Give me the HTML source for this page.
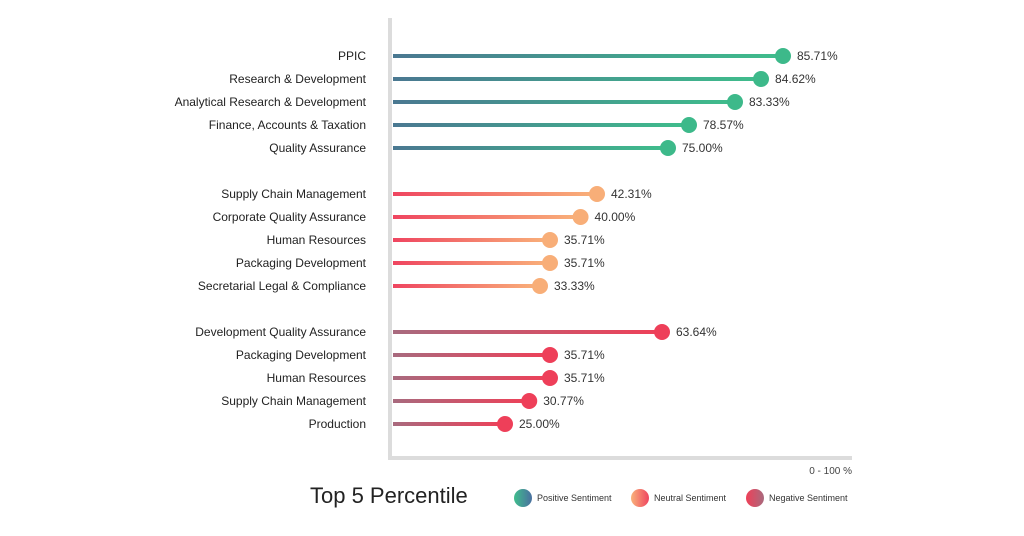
<!DOCTYPE html>
<html><head><meta charset="utf-8"><style>
body{margin:0;background:#fff;}
svg{display:block;font-family:"Liberation Sans",sans-serif;}
</style></head><body>
<svg id="chart" width="1024" height="536" viewBox="0 0 1024 536">
<defs>
<linearGradient id="gPos" x1="0" x2="1" y1="0" y2="0"><stop offset="0" stop-color="#4a7891"/><stop offset="1" stop-color="#3fbd8c"/></linearGradient>
<linearGradient id="gNeu" x1="0" x2="1" y1="0" y2="0"><stop offset="0" stop-color="#ef4560"/><stop offset="1" stop-color="#f9b27a"/></linearGradient>
<linearGradient id="gNeg" x1="0" x2="1" y1="0" y2="0"><stop offset="0" stop-color="#a86a7e"/><stop offset="1" stop-color="#ef4058"/></linearGradient>
<linearGradient id="lPos" x1="0" x2="1"><stop offset="0" stop-color="#3fbd8c"/><stop offset="1" stop-color="#4a6fa0"/></linearGradient>
<linearGradient id="lNeu" x1="0" x2="1"><stop offset="0" stop-color="#f9b27a"/><stop offset="1" stop-color="#ef4560"/></linearGradient>
<linearGradient id="lNeg" x1="0" x2="1"><stop offset="0" stop-color="#ef4058"/><stop offset="1" stop-color="#a86a7e"/></linearGradient>
</defs>
<rect x="388" y="18" width="4" height="442" fill="#dcdcdc"/>
<rect x="388" y="456" width="464" height="4" fill="#dcdcdc"/>
<text x="852" y="474" text-anchor="end" font-size="10" fill="#444">0 - 100 %</text>
<text x="310" y="503" font-size="22" fill="#222">Top 5 Percentile</text>
<g>
<circle cx="523" cy="498" r="9" fill="url(#lPos)"/>
<text x="537" y="501" font-size="9" fill="#333">Positive Sentiment</text>
<circle cx="640" cy="498" r="9" fill="url(#lNeu)"/>
<text x="654" y="501" font-size="9" fill="#333">Neutral Sentiment</text>
<circle cx="755" cy="498" r="9" fill="url(#lNeg)"/>
<text x="769" y="501" font-size="9" fill="#333">Negative Sentiment</text>
</g>
<g id="marks"></g>
</svg>
<script>
const positiveCategories=["PPIC","Research & Development","Analytical Research & Development","Finance, Accounts & Taxation","Quality Assurance"];
const positiveValues=[85.71,84.62,83.33,78.57,75.00];
const neutralCategories=["Supply Chain Management","Corporate Quality Assurance","Human Resources","Packaging Development","Secretarial Legal & Compliance"];
const neutralValues=[42.31,40.00,35.71,35.71,33.33];
const negativeCategories=["Development Quality Assurance","Packaging Development","Human Resources","Supply Chain Management","Production"];
const negativeValues=[63.64,35.71,35.71,30.77,25.00];

// piecewise-linear x scale (the infographic is not drawn to a linear scale)
const scaleDomain=[0,25,35.71,42.31,63.64,75,78.57,83.33,85.71,100];
const scaleRange=[393,505,550,597,662,668,689,735,783,848];

const NS="http://www.w3.org/2000/svg";
const g=document.getElementById('marks');
function xScale(v){
 for(let k=0;k<scaleDomain.length-1;k++){
  if(v<=scaleDomain[k+1]){const t=(v-scaleDomain[k])/(scaleDomain[k+1]-scaleDomain[k]);return scaleRange[k]+t*(scaleRange[k+1]-scaleRange[k]);}
 }
 return scaleRange[scaleRange.length-1];
}
function yScale(group,i){return 56+group*138+i*23;}
function mk(t,a){const e=document.createElementNS(NS,t);for(const k in a)e.setAttribute(k,a[k]);g.appendChild(e);return e;}
const groups=[
 {cats:positiveCategories,vals:positiveValues,grad:"url(#gPos)",dot:"#3db98a"},
 {cats:neutralCategories,vals:neutralValues,grad:"url(#gNeu)",dot:"#f8ae78"},
 {cats:negativeCategories,vals:negativeValues,grad:"url(#gNeg)",dot:"#ee3f59"}
];
groups.forEach((gr,gi)=>{
 gr.cats.forEach((c,i)=>{
  const y=yScale(gi,i), x=xScale(gr.vals[i]);
  const lab=mk('text',{x:366,y:y+4,'text-anchor':'end','font-size':12,fill:'#222'});
  lab.textContent=c;
  
  
  const ln=mk('rect',{x:393,y:y-2,width:Math.max(0,x-393),height:4,fill:gr.grad});
  
  
  const d=mk('circle',{cx:x,cy:y,r:8,fill:gr.dot});
  
  
  const v=mk('text',{x:x+14,y:y+4,'font-size':12,fill:'#333'});
  v.textContent=gr.vals[i].toFixed(2)+'%';
  
  
 });
});
</script>
</body></html>
